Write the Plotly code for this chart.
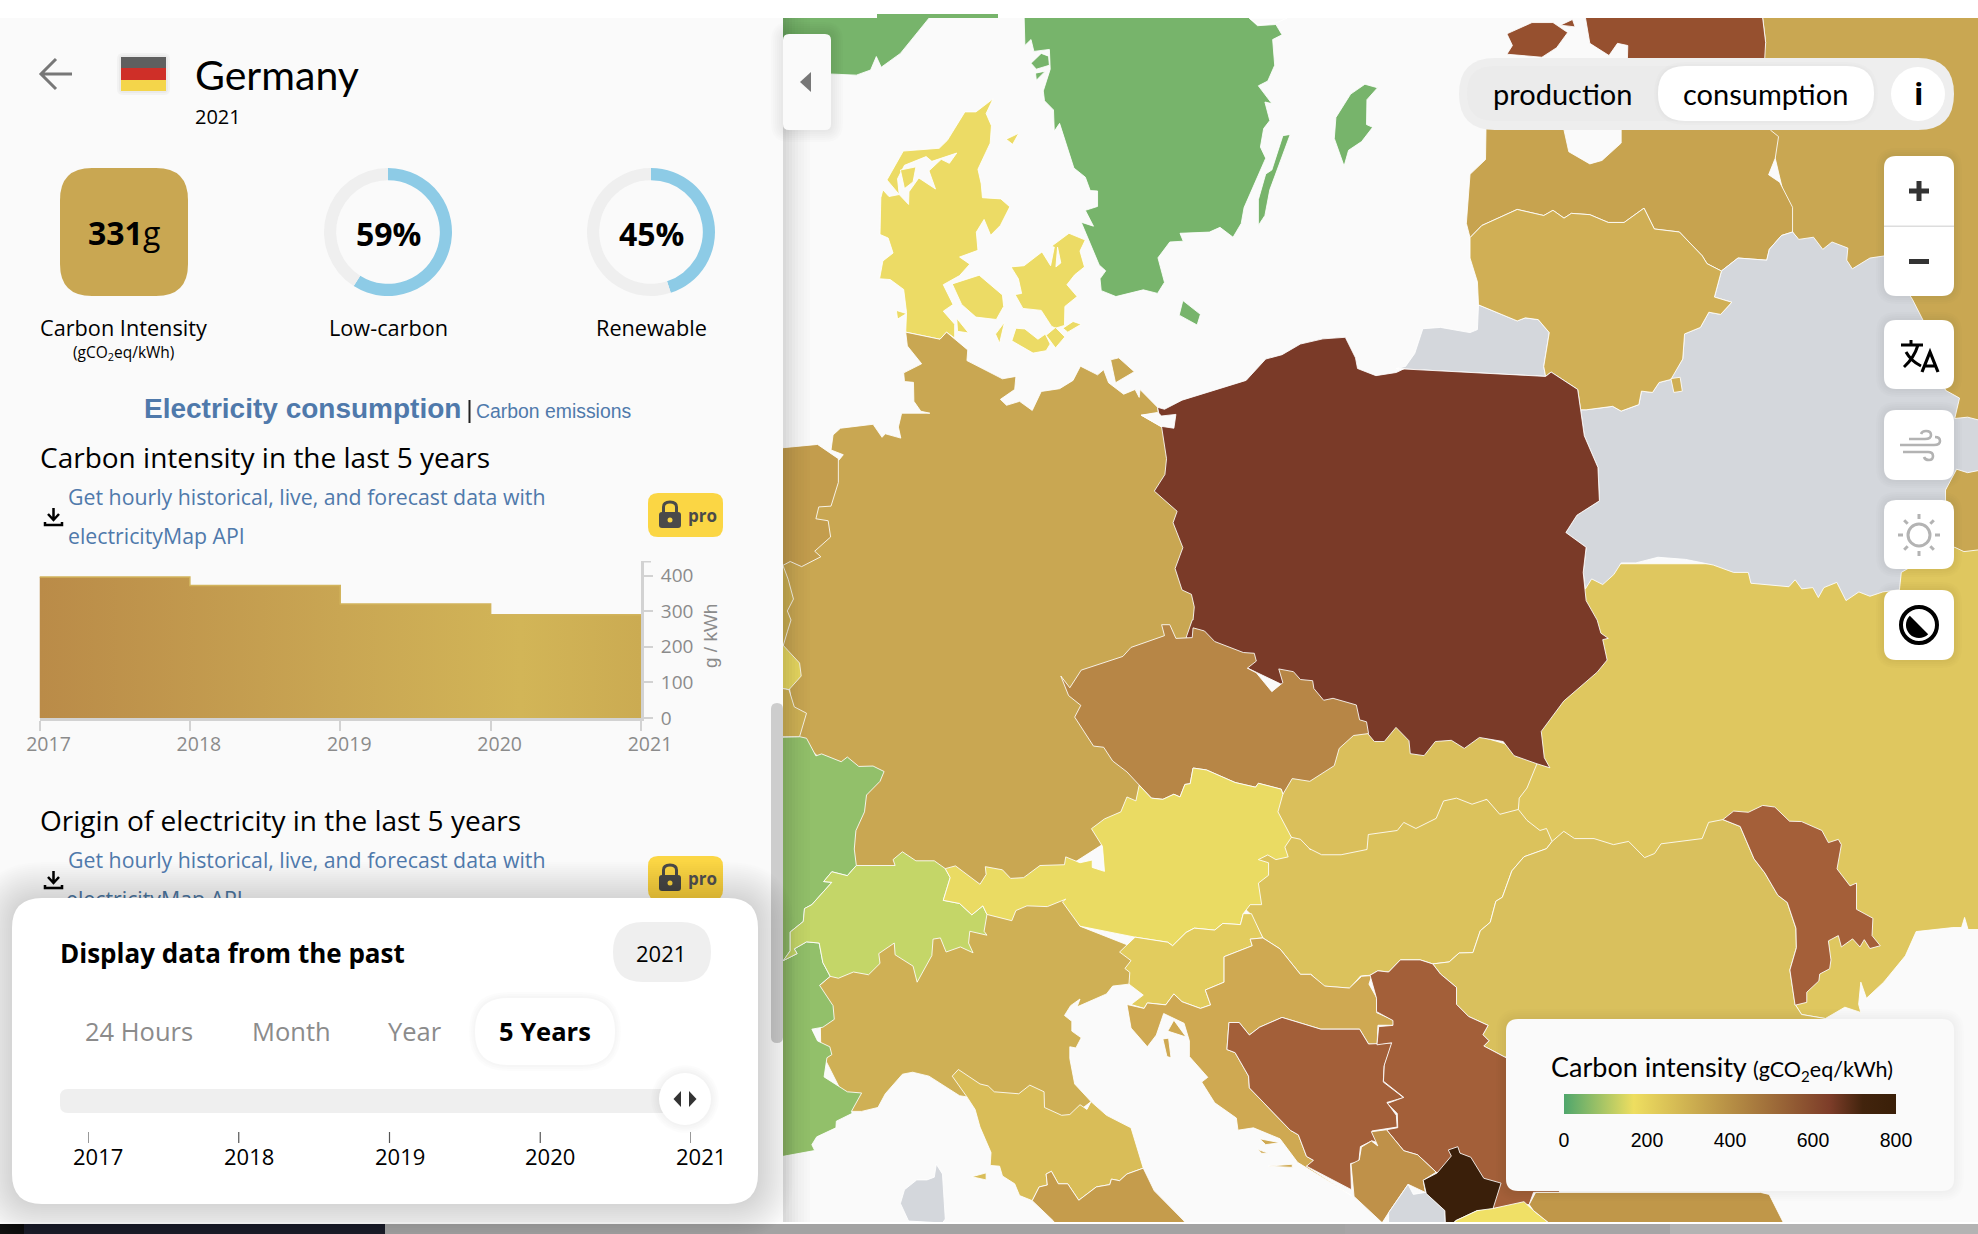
import math
import plotly.graph_objects as go

W, H = 1978, 1234

# --- chart values ---
YEARS = [2017, 2018, 2019, 2020, 2021]
INTENSITY = [396, 372, 320, 290, 290]
INTENSITY_TICKS = [0, 100, 200, 300, 400]
LOW_CARBON = [59, 41]
RENEWABLE = [45, 55]
LEGEND_TICKS = [0, 200, 400, 600, 800]

# colours
CARBON_SCALE = [[0, '#4fa66c'], [0.21, '#eede60'], [0.8, '#7d3d29'], [0.9, '#42240d'], [1, '#3a1f08']]

# --- map outlines, traced in pieces of the screenshot ---
TILES = {'nw': (780, 0, 2.45, 2.529), 'sw': (780, 620, 2.45, 2.554),
         'ne': (1400, 0, 2.713, 2.306), 'se': (1300, 600, 2.3127, 2.473)}

NORWAY = [('nw', [(-20, 0), (400, 0), (365, 46), (295, 135), (248, 170), (236, 143), (222, 177), (187, 190), (120, 187), (-20, 187)])]
SWEDEN = [('nw', [(597, 0), (600, 115), (615, 100), (622, 130), (660, 125), (662, 175), (645, 230), (648, 255), (670, 278), (672, 332), (685, 312), (720, 425), (748, 448), (760, 482), (778, 483), (778, 522), (748, 532), (768, 572), (738, 562), (782, 670), (798, 685), (784, 705), (787, 735), (823, 750), (890, 733), (925, 742), (942, 714), (926, 652), (955, 612), (988, 610), (980, 590), (1052, 587), (1078, 575), (1110, 600), (1130, 565), (1137, 525), (1190, 400), (1177, 372), (1185, 325), (1200, 305), (1188, 258), (1205, 262), (1172, 217), (1195, 205), (1212, 165), (1207, 100), (1230, 88), (1215, 62), (1170, 65), (1150, 46), (1150, 0)])]
SWEDEN_ISLE_A = [('nw', [(615, 160), (640, 135), (658, 142), (660, 165), (628, 175)])]
SWEDEN_ISLE_B = [('nw', [(626, 185), (650, 180), (628, 203)])]
SWEDEN_ISLE_C = [('nw', [(1150, 46), (1242, 46), (1215, 58), (1170, 62)])]
BORNHOLM = [('nw', [(987, 760), (1030, 795), (1022, 822), (978, 797)])]
OLAND = [('nw', [(1250, 340), (1232, 343), (1205, 430), (1190, 440), (1172, 505), (1172, 570), (1188, 545), (1200, 480)])]
GOTLAND = [('nw', [(1433, 213), (1464, 222), (1438, 252), (1437, 315), (1452, 322), (1425, 358), (1393, 380), (1382, 420), (1358, 350), (1362, 297), (1398, 238)])]

JUTLAND = [('nw', [(522, 250), (480, 283), (453, 283), (410, 355), (390, 375), (302, 382), (262, 455), (292, 492), (267, 497), (252, 480), (247, 500), (245, 593), (265, 602), (277, 640), (252, 660), (244, 705), (270, 707), (303, 732), (310, 790), (308, 840), (392, 858), (408, 840), (428, 855), (428, 820), (400, 787), (424, 770), (400, 720), (440, 697), (465, 668), (440, 650), (485, 633), (481, 587), (500, 555), (516, 595), (540, 570), (563, 523), (541, 503), (496, 500), (493, 465), (485, 428), (515, 362), (518, 318), (505, 287)])]
LIMFJORD = [('nw', [(288, 452), (305, 418), (358, 396), (372, 408), (433, 387), (415, 413), (395, 403), (365, 432), (381, 478), (340, 450), (316, 485), (315, 517), (292, 492)])]
MORS = [('nw', [(295, 430), (333, 422), (326, 460), (305, 477)])]
FUNEN = [('nw', [(422, 718), (488, 696), (545, 746), (548, 775), (530, 808), (480, 802), (445, 770)])]
ZEALAND = [('nw', [(566, 675), (598, 672), (642, 637), (663, 672), (672, 625), (665, 623), (708, 590), (748, 607), (735, 635), (746, 675), (722, 695), (703, 720), (728, 750), (698, 775), (697, 823), (675, 830), (665, 825), (640, 785), (595, 780), (576, 745), (592, 742), (584, 705)])]
ISEFJORD = [('nw', [(680, 625), (688, 665), (676, 675)])]
LOLLAND = [('nw', [(568, 862), (578, 830), (600, 832), (632, 858), (650, 845), (662, 870), (652, 887), (620, 893)])]
FALSTER = [('nw', [(652, 848), (675, 828), (698, 852), (675, 880)])]
MON = [('nw', [(693, 830), (718, 813), (738, 820), (705, 840)])]
AERO = [('nw', [(528, 845), (550, 815), (538, 868)])]
ALS = [('nw', [(433, 805), (462, 842), (435, 838)])]
FANO = [('nw', [(285, 785), (310, 793), (288, 807)])]
ANHOLT = [('nw', [(554, 352), (585, 337), (570, 365)])]

RUSSIA = [('ne', [(978, 0), (1600, 0), (1600, 1290), (1400, 1290), (1300, 800), (1065, 535), (1000, 300), (985, 135), (992, 98)])]
ESTONIA = [('ne', [(495, 0), (515, 100), (567, 128), (590, 100), (618, 105), (615, 200), (985, 200), (992, 98), (978, 0)])]
ESTONIA_ISLE_A = [('ne', [(290, 78), (358, 52), (415, 52), (455, 75), (425, 110), (385, 132), (290, 125), (305, 105)])]
ESTONIA_ISLE_B = [('ne', [(435, 58), (468, 45), (475, 62)])]
LATVIA = [('ne', [(235, 200), (232, 368), (190, 402), (180, 515), (190, 548), (222, 520), (318, 483), (390, 497), (415, 485), (445, 503), (465, 492), (515, 495), (565, 513), (608, 513), (662, 480), (690, 528), (758, 535), (820, 590), (833, 608), (872, 625), (917, 595), (995, 600), (1002, 575), (1035, 543), (1065, 535), (1065, 478), (1030, 420), (1000, 403), (1018, 365), (1027, 315), (1005, 300), (995, 200), (600, 200), (600, 330), (548, 370), (515, 378), (458, 350), (445, 300), (445, 200)])]
LITHUANIA = [('ne', [(190, 548), (222, 520), (318, 483), (390, 497), (415, 485), (445, 503), (465, 492), (515, 495), (565, 513), (608, 513), (662, 480), (690, 528), (758, 535), (820, 590), (833, 608), (872, 625), (853, 685), (900, 697), (870, 725), (838, 720), (815, 755), (772, 770), (767, 828), (740, 865), (735, 875), (703, 882), (685, 905), (655, 902), (648, 933), (600, 948), (577, 937), (505, 945), (490, 945), (482, 898), (410, 858), (395, 868), (390, 845), (405, 767), (375, 737), (340, 733), (318, 740), (213, 703), (210, 650), (190, 595)])]
LITHUANIA_ENCLAVE = [('ne', [(735, 873), (760, 870), (766, 902), (743, 905)])]
KALININGRAD = [('ne', [(213, 703), (318, 740), (340, 733), (375, 737), (405, 767), (390, 845), (395, 868), (-10, 850), (15, 845), (40, 815), (62, 758), (110, 755), (190, 767), (210, 760)])]
BELARUS = [('ne', [(490, 945), (505, 945), (577, 937), (600, 948), (648, 933), (655, 902), (685, 905), (703, 882), (735, 875), (740, 865), (767, 828), (772, 770), (815, 755), (838, 720), (870, 725), (900, 697), (853, 685), (872, 625), (917, 595), (995, 600), (1002, 575), (1035, 543), (1065, 535), (1082, 552), (1122, 547), (1147, 575), (1172, 558), (1215, 572), (1212, 600), (1227, 620), (1275, 595), (1315, 590), (1390, 690), (1420, 740), (1480, 900), (1518, 918), (1505, 965), (1540, 962), (1600, 975), (1600, 1080), (1540, 1090), (1510, 1082), (1480, 1130), (1480, 1260), (1360, 1320), (1355, 1360), (1310, 1365), (1275, 1375), (1245, 1365), (1210, 1385), (1185, 1343), (1150, 1355), (1135, 1378), (1120, 1355), (1090, 1358), (1072, 1337), (1055, 1353), (952, 1345), (945, 1320), (905, 1320), (850, 1303), (775, 1290), (700, 1285), (640, 1298), (600, 1298), (580, 1325), (550, 1348), (520, 1335), (503, 1358), (497, 1320), (505, 1262), (450, 1228), (480, 1188), (541, 1155), (537, 1078), (500, 1005)])]
UKRAINE = [('ne', [(480, 1300), (1360, 1300), (1505, 1262), (1530, 1272), (1600, 1265)]),
           ('se', [(1600, 815), (1545, 815), (1537, 785), (1530, 810), (1510, 810), (1425, 820), (1400, 880), (1350, 945), (1310, 985), (1297, 945), (1292, 1000), (1297, 1020), (1260, 1007), (1215, 1035), (1160, 1025), (1145, 1000), (500, 900), (480, 500), (480, 380)])]
MOLDOVA = [('se', [(978, 543), (1003, 522), (1037, 525), (1070, 508), (1098, 512), (1132, 547), (1160, 548), (1207, 570), (1222, 600), (1245, 592), (1252, 605), (1242, 665), (1272, 707), (1287, 700), (1287, 765), (1325, 787), (1323, 830), (1342, 855), (1318, 862), (1305, 840), (1295, 858), (1278, 838), (1252, 858), (1245, 830), (1222, 843), (1228, 890), (1225, 912), (1202, 925), (1200, 942), (1172, 970), (1172, 995), (1145, 1002), (1133, 915), (1148, 860), (1147, 812), (1127, 748), (1105, 730), (1075, 675), (1050, 640), (1018, 560)])]

ITALY_NORTH = [('sw', [(97, 933), (123, 910), (300, 800), (500, 750), (700, 700), (735, 782), (900, 850), (870, 925), (855, 930), (815, 935), (800, 955), (728, 988), (735, 968), (712, 985), (697, 1010), (715, 1025), (715, 1050), (738, 1067), (725, 1093), (710, 1090), (710, 1120), (722, 1185), (762, 1230), (700, 1280), (480, 1250), (458, 1218), (440, 1215), (365, 1165), (325, 1155), (300, 1160), (258, 1210), (240, 1245), (200, 1255), (175, 1255), (100, 1100)])]
ITALY_CENTRE = [('sw', [(422, 1165), (437, 1148), (490, 1185), (510, 1190), (525, 1205), (585, 1210), (612, 1188), (647, 1205), (648, 1245), (690, 1265), (710, 1263), (735, 1238), (752, 1250), (762, 1230), (800, 1265), (860, 1297), (890, 1400), (850, 1415), (832, 1432), (812, 1428), (808, 1442), (775, 1448), (732, 1482), (705, 1440), (682, 1440), (665, 1408), (652, 1415), (655, 1443), (635, 1448), (618, 1483), (587, 1470), (575, 1440), (545, 1420), (538, 1395), (515, 1393), (517, 1360), (490, 1295), (478, 1250), (458, 1218)])]
ITALY_SOUTH = [('sw', [(618, 1483), (635, 1448), (655, 1443), (652, 1415), (665, 1408), (682, 1440), (705, 1440), (732, 1482), (775, 1448), (808, 1442), (812, 1428), (832, 1432), (850, 1415), (890, 1400), (917, 1458), (990, 1535), (1010, 1580), (690, 1580), (670, 1535)])]
ELBA = [('sw', [(470, 1422), (505, 1412), (505, 1430)])]
CORSICA = [('sw', [(383, 1390), (398, 1415), (405, 1530), (398, 1540), (315, 1535), (295, 1490), (305, 1455), (335, 1430), (360, 1430), (378, 1423)])]

FRANCE = [('sw', [(-20, 300), (48, 298), (65, 302), (88, 347), (102, 342), (150, 362), (165, 350), (193, 374), (228, 373), (255, 387), (245, 412), (212, 447), (207, 490), (186, 538), (182, 585), (187, 627), (165, 653), (127, 643), (107, 668), (127, 670), (78, 727), (60, 737), (57, 770), (25, 797), (25, 845), (8, 870), (42, 852), (35, 840), (65, 822), (96, 825), (105, 875), (123, 910), (97, 933), (130, 985), (133, 1020), (105, 1040), (78, 1045), (92, 1075), (122, 1090), (127, 1110), (115, 1118), (108, 1167), (165, 1205), (200, 1208), (175, 1255), (177, 1260), (138, 1280), (137, 1297), (90, 1320), (78, 1340), (85, 1355), (-20, 1375)])]
GERMANY = [('nw', [(308, 840), (392, 858), (408, 840), (460, 885), (458, 912), (545, 958), (578, 952), (575, 985), (540, 1010), (555, 1025), (587, 1015), (618, 1038), (640, 990), (685, 983), (718, 962), (736, 926), (778, 948), (793, 935), (805, 968), (842, 997), (870, 985), (880, 1005), (882, 985), (925, 1030), (927, 1045), (885, 1050), (935, 1080), (1050, 1100), (1100, 1568)]),
           ('sw', [(1050, 200), (900, 500), (600, 700), (300, 700), (150, 620), (150, 400), (40, 300), (0, 1)]),
           ('nw', [(0, 1500), (0, 1300), (100, 1170), (145, 1163), (155, 1150), (125, 1138), (130, 1100), (148, 1083), (228, 1073), (250, 1106), (258, 1097), (296, 1108), (290, 1080), (298, 1045), (367, 1045), (345, 1040), (328, 1015), (327, 967), (305, 965), (303, 943), (347, 920), (312, 875)])]
RUGEN = [('nw', [(810, 910), (830, 905), (868, 940), (822, 968)])]
NETHERLANDS = [('nw', [(-20, 1135), (92, 1124), (143, 1160), (143, 1220), (125, 1280), (95, 1282), (88, 1312), (118, 1317), (124, 1358), (85, 1394), (100, 1408), (53, 1433), (25, 1420), (-20, 1445)])]
BELGIUM = [('nw', [(-20, 1445), (8, 1432), (20, 1465), (33, 1515), (18, 1545), (27, 1568)]), ('sw', [(18, 30), (8, 65), (-20, 65)])]
LUXEMBOURG = [('sw', [(-20, 65), (8, 65), (48, 110), (52, 143), (22, 178), (-20, 170)])]
LORRAINE = [('sw', [(-20, 170), (22, 178), (35, 222), (65, 238), (48, 298), (-20, 298)])]

HUNGARY = [('se', [(505, 518), (525, 545), (555, 570), (570, 565), (583, 597), (570, 615), (518, 635), (490, 670), (468, 735), (453, 745), (440, 797), (417, 818), (400, 872), (368, 873), (345, 895), (307, 900), (278, 890), (232, 890), (205, 920), (180, 917), (162, 928), (140, 930), (115, 960), (55, 955), (25, 925)]),
           ('sw', [(1300, 905), (1275, 905), (1225, 840), (1183, 812), (1152, 750), (1100, 700), (1200, 500), (1300, 500)]),
           ('se', [(300, 480), (490, 500)])]
ROMANIA = [('se', [(583, 597), (610, 572), (635, 590), (680, 590), (725, 605), (760, 597), (797, 637), (820, 627), (835, 603), (930, 590), (945, 550), (978, 543), (1018, 560), (1050, 640), (1075, 675), (1105, 730), (1127, 748), (1147, 812), (1148, 860), (1133, 915), (1145, 1000), (1160, 1025), (1215, 1035), (1215, 1100), (476, 1130), (473, 1130), (425, 1103), (437, 1090), (423, 1075), (435, 1052), (390, 1030), (362, 1000), (362, 958), (325, 925), (307, 900), (345, 895), (368, 873), (400, 872), (417, 818), (440, 797), (453, 745), (468, 735), (490, 670), (518, 635), (570, 615)])]
SLOVAKIA = [('sw', [(1210, 500), (1228, 445), (1300, 300), (1500, 200)]),
            ('se', [(300, 300), (550, 380), (548, 405), (525, 465), (507, 490), (505, 518), (462, 530), (432, 493), (398, 505), (362, 490), (332, 497), (315, 540), (268, 565), (240, 550), (225, 570), (158, 580), (155, 617), (95, 630), (50, 630), (22, 615)]),
            ('sw', [(1300, 587), (1275, 560), (1253, 555)])]
POLAND = [('nw', [(925, 1030), (942, 1035), (985, 1012), (1142, 962), (1190, 908), (1230, 897), (1275, 870), (1330, 857), (1385, 853), (1410, 905), (1415, 932), (1460, 950), (1510, 942), (1530, 932)]),
          ('ne', [(-10, 850), (395, 868), (410, 858), (482, 898), (490, 945), (500, 1005), (537, 1078), (541, 1155), (480, 1188), (450, 1228), (505, 1262), (497, 1320), (505, 1385), (535, 1430), (545, 1460), (565, 1472), (550, 1475), (562, 1522), (535, 1550)]),
          ('se', [(610, 250), (558, 325), (565, 390), (578, 415), (548, 405), (495, 385), (470, 350), (415, 340), (380, 367), (350, 347), (313, 350), (287, 385), (255, 380), (252, 348), (222, 315), (195, 350), (172, 350), (155, 328)]),
          ('sw', [(1300, 200), (1100, 100), (995, 45), (1010, 0)]),
          ('nw', [(1012, 1568), (1015, 1535), (1008, 1503), (985, 1492), (968, 1438), (987, 1385), (963, 1322), (973, 1293), (917, 1242), (943, 1200), (947, 1160), (935, 1080)])]
STETTIN_LAGOON = [('nw', [(885, 1050), (925, 1043), (935, 1052), (970, 1048), (965, 1083), (933, 1078)])]
CZECHIA = [('sw', [(688, 143), (710, 173), (738, 128), (840, 93), (860, 70), (942, 40), (935, 12), (955, 12), (970, 47), (995, 45), (1010, 45), (1012, 20), (1040, 28), (1065, 55), (1135, 83), (1162, 85), (1167, 105), (1145, 123), (1167, 135), (1205, 183), (1232, 160), (1222, 125), (1258, 132), (1275, 152), (1305, 155), (1308, 175), (1332, 205), (1355, 200), (1412, 217), (1420, 255), (1437, 260), (1442, 290), (1405, 295), (1370, 328), (1358, 372), (1298, 412), (1255, 405), (1232, 445), (1228, 432), (1172, 417), (1165, 427), (1115, 415), (1045, 383), (1012, 378), (1005, 418), (992, 420), (980, 452), (965, 445), (938, 458), (910, 455), (880, 422), (850, 388), (815, 360), (793, 325), (768, 322), (722, 248), (737, 218), (707, 193)])]
SWITZERLAND = [('sw', [(187, 627), (282, 627), (277, 612), (300, 592), (333, 615), (378, 615), (405, 635), (417, 658), (400, 716), (440, 724), (470, 753), (497, 730), (507, 752), (500, 795), (507, 805), (465, 795), (462, 825), (473, 850), (442, 835), (407, 848), (393, 812), (375, 815), (372, 857), (336, 925), (326, 884), (282, 855), (280, 825), (242, 852), (245, 877), (217, 906), (180, 899), (143, 915), (123, 910), (105, 875), (96, 825), (65, 822), (35, 840), (42, 852), (8, 870), (25, 845), (25, 797), (57, 770), (60, 737), (78, 727), (127, 670), (107, 668), (127, 643), (165, 653)])]
AUSTRIA = [('sw', [(880, 422), (910, 455), (938, 458), (965, 445), (980, 452), (992, 420), (1005, 418), (1012, 378), (1045, 383), (1115, 415), (1165, 427), (1172, 417), (1228, 432), (1232, 445), (1220, 490), (1253, 555), (1237, 580), (1245, 605), (1215, 612), (1195, 600), (1172, 612), (1197, 620), (1197, 652), (1172, 672), (1180, 727), (1152, 727), (1135, 750), (1128, 778), (1085, 775), (1065, 792), (1015, 787), (995, 798), (962, 832), (950, 823), (870, 810), (735, 782), (692, 720), (700, 713), (655, 732), (605, 730), (578, 742), (568, 768), (507, 752), (497, 730), (470, 753), (440, 724), (400, 716), (417, 658), (405, 635), (430, 628), (490, 675), (505, 650), (503, 630), (545, 638), (565, 660), (597, 658), (637, 627), (697, 625), (700, 605), (735, 620), (765, 613), (765, 632), (795, 642), (790, 578), (763, 533), (795, 508), (835, 490), (850, 452), (872, 462)])]
SLOVENIA = [('sw', [(870, 810), (950, 823), (962, 832), (995, 798), (1015, 787), (1065, 792), (1085, 775), (1128, 778), (1135, 750), (1155, 750), (1183, 812), (1152, 815), (1157, 832), (1088, 860), (1088, 925), (1042, 945), (1055, 983), (1030, 992), (985, 975), (965, 955), (945, 983), (900, 978), (892, 992), (860, 982), (890, 958), (855, 930), (857, 900), (845, 890), (860, 870), (832, 848)])]
CROATIA = [('sw', [(850, 982), (892, 992), (900, 978), (945, 983), (965, 955), (985, 975), (1030, 992), (1055, 983), (1042, 945), (1088, 925), (1088, 860), (1157, 832), (1152, 815), (1183, 812), (1225, 840), (1275, 905), (1300, 905), (1335, 935), (1395, 940), (1425, 910), (1450, 908), (1443, 930), (1462, 965), (1462, 1003), (1503, 1022), (1503, 1035), (1465, 1035), (1463, 1083), (1442, 1083), (1420, 1045), (1325, 1045), (1230, 1015), (1175, 1040), (1150, 1060), (1125, 1028), (1100, 1028), (1095, 1097), (1115, 1105), (1148, 1165), (1150, 1195), (1250, 1303), (1270, 1315), (1290, 1370), (1307, 1380), (1305, 1390), (1290, 1395), (1400, 1470), (1268, 1385), (1225, 1325), (1160, 1297), (1122, 1303), (1118, 1272), (1065, 1233), (1033, 1180), (1048, 1168), (1003, 1115), (1003, 1075), (990, 1030), (940, 1005), (922, 1060), (900, 1090), (860, 1042)])]
CROATIA_ISLE_A = [('sw', [(950, 1050), (965, 1022), (995, 1065)])]
CROATIA_ISLE_B = [('sw', [(938, 1070), (952, 1068), (958, 1118), (948, 1115)])]
CROATIA_ISLE_C = [('sw', [(1175, 1325), (1225, 1335), (1190, 1340)])]
CROATIA_ISLE_D = [('sw', [(1170, 1352), (1197, 1362), (1180, 1362)])]
CROATIA_ISLE_E = [('sw', [(1195, 1395), (1255, 1390), (1255, 1398)])]
BOSNIA = [('sw', [(1100, 1028), (1125, 1028), (1150, 1060), (1175, 1040), (1230, 1015), (1325, 1045), (1420, 1045), (1442, 1083), (1500, 1080), (1480, 1140), (1478, 1180), (1528, 1220), (1487, 1232), (1510, 1265), (1512, 1295), (1450, 1305), (1465, 1335), (1450, 1330), (1422, 1345), (1418, 1385), (1398, 1388), (1400, 1455), (1290, 1395), (1307, 1380), (1290, 1370), (1270, 1315), (1250, 1303), (1150, 1195), (1148, 1165), (1115, 1105), (1095, 1097)])]
SERBIA = [('se', [(162, 928), (180, 917), (205, 920), (232, 890), (278, 890), (307, 900), (325, 925), (362, 958), (362, 1000), (390, 1030), (435, 1052), (423, 1075), (437, 1090), (425, 1103), (473, 1130), (600, 1200), (600, 1465), (540, 1465), (530, 1495), (450, 1505), (350, 1450), (315, 1415), (272, 1372), (240, 1362), (200, 1310), (226, 1305), (225, 1270), (202, 1245), (240, 1230), (193, 1190), (195, 1150), (212, 1095), (178, 1100), (182, 1055), (215, 1052), (215, 1040), (177, 1018), (177, 985)])]
MONTENEGRO = [('se', [(165, 1315), (200, 1310), (240, 1362), (272, 1372), (315, 1415), (285, 1435), (290, 1465), (250, 1445), (205, 1515), (190, 1540), (125, 1475), (118, 1395), (137, 1385), (142, 1353), (165, 1338), (180, 1350)])]
KOSOVO = [('se', [(343, 1360), (365, 1352), (370, 1368), (395, 1378), (425, 1430), (465, 1442), (445, 1510), (410, 1510), (360, 1535), (337, 1560), (335, 1510), (292, 1468), (285, 1435), (317, 1417), (350, 1375)])]
ALBANIA = [('se', [(250, 1445), (262, 1470), (290, 1465), (335, 1510), (337, 1560), (205, 1560), (205, 1515)])]
MACEDONIA = [('se', [(360, 1535), (410, 1510), (445, 1505), (518, 1488), (540, 1510), (575, 1540), (575, 1560), (345, 1560)])]
BULGARIA = [('se', [(530, 1495), (545, 1465), (1065, 1465), (1085, 1470), (1118, 1540), (1118, 1560), (575, 1560), (575, 1540), (540, 1510)])]

# paint order matters: later countries own the shared border
MAP_LAYERS = [
    (NORWAY, '#77b46b'), (SWEDEN, '#77b46b'), (SWEDEN_ISLE_A, '#77b46b'), (SWEDEN_ISLE_B, '#77b46b'),
    (SWEDEN_ISLE_C, '#fafafa'), (BORNHOLM, '#77b46b'), (OLAND, '#77b46b'), (GOTLAND, '#77b46b'),
    (JUTLAND, '#ecdb65'), (LIMFJORD, '#fafafa'), (MORS, '#ecdb65'), (FUNEN, '#ecdb65'), (ZEALAND, '#ecdb65'),
    (ISEFJORD, '#fafafa'), (LOLLAND, '#ecdb65'), (FALSTER, '#ecdb65'), (MON, '#ecdb65'), (AERO, '#ecdb65'),
    (ALS, '#ecdb65'), (FANO, '#ecdb65'), (ANHOLT, '#ecdb65'),
    (RUSSIA, '#c9a752'), (UKRAINE, '#dfc75f'), (ESTONIA, '#96502f'), (ESTONIA_ISLE_A, '#96502f'), (ESTONIA_ISLE_B, '#96502f'),
    (LATVIA, '#c7a34f'), (KALININGRAD, '#d4d7dc'), (BELARUS, '#d4d7dc'), (LITHUANIA, '#d0af55'),
    (LITHUANIA_ENCLAVE, '#d0af55'),
    (ITALY_NORTH, '#cfb055'), (ITALY_CENTRE, '#d9bd58'), (ITALY_SOUTH, '#c59c4c'), (ELBA, '#d9bd58'), (CORSICA, '#d4d7dc'),
    (GERMANY, '#c9a752'), (RUGEN, '#c9a752'), (FRANCE, '#92c06a'), (NETHERLANDS, '#c39d4d'), (BELGIUM, '#cdb052'),
    (LUXEMBOURG, '#e8d860'), (LORRAINE, '#d0b255'),
    (HUNGARY, '#dbc25c'), (ROMANIA, '#d9c05d'), (SLOVAKIA, '#dabf5b'), (POLAND, '#7a3a28'), (STETTIN_LAGOON, '#fafafa'),
    (CZECHIA, '#b78646'), (SWITZERLAND, '#c4d668'), (AUSTRIA, '#eadb63'), (SLOVENIA, '#e2cc5e'),
    (CROATIA, '#cfa952'), (CROATIA_ISLE_A, '#cfa952'), (CROATIA_ISLE_B, '#cfa952'), (CROATIA_ISLE_C, '#cfa952'),
    (CROATIA_ISLE_D, '#cfa952'), (CROATIA_ISLE_E, '#cfa952'),
    (BOSNIA, '#a35f39'), (SERBIA, '#a35f39'), (MONTENEGRO, '#bf9149'), (ALBANIA, '#d4d7dc'), (KOSOVO, '#3a1f0a'),
    (MACEDONIA, '#f0e066'), (BULGARIA, '#c09749'), (MOLDOVA, '#a45f39'),
]

BODY = 'Open Sans'
BRAND = 'Lato'
LINK = '#4f79ab'
GREY = '#8b8b8b'


def unroll(runs):
    xs, ys = [], []
    for tile, pts in runs:
        ox, oy, sx, sy = TILES[tile]
        for x, y in pts:
            xs.append(ox + x / sx)
            ys.append(oy + y / sy)
    xs.append(xs[0])
    ys.append(ys[0])
    return xs, ys


fig = go.Figure()

for runs, colour in MAP_LAYERS:
    xs, ys = unroll(runs)
    fig.add_trace(go.Scatter(x=xs, y=ys, mode='lines', fill='toself', fillcolor=colour,
                             line=dict(color='rgba(255,255,255,0.85)', width=1),
                             hoverinfo='skip', showlegend=False, xaxis='x', yaxis='y'))

# carbon intensity step chart
fig.add_trace(go.Scatter(x=YEARS, y=INTENSITY, mode='lines', line=dict(shape='hv', color='#d2b45c', width=1.5),
                         fill='tozeroy', fillgradient=dict(type='horizontal', colorscale=[
                             [0, '#ba8b48'], [0.5, '#c9a653'], [0.8, '#d2b557'], [1, '#cbab52']]),
                         hoverinfo='skip', showlegend=False, xaxis='x2', yaxis='y2'))

# slider scale, only the shapes below use it
fig.add_trace(go.Scatter(x=YEARS, y=[0] * len(YEARS), mode='markers', marker=dict(opacity=0),
                         hoverinfo='skip', showlegend=False, xaxis='x3', yaxis='y3'))

# second link line is cut off by the card, so it has to sit under the shapes
fig.add_trace(go.Scatter(x=[66], y=[902], mode='text', text=['electricityMap API'], textposition='middle right',
                         textfont=dict(family=BODY, size=21.3, color=LINK),
                         hoverinfo='skip', showlegend=False, xaxis='x4', yaxis='y4'))

# only here for the horizontal colour bar
fig.add_trace(go.Scatter(x=[-50], y=[-50], mode='markers', hoverinfo='skip', showlegend=False, xaxis='x4', yaxis='y4',
                         marker=dict(color=[0], cmin=LEGEND_TICKS[0], cmax=LEGEND_TICKS[-1], colorscale=CARBON_SCALE,
                                     showscale=True, colorbar=dict(
                                         orientation='h', lenmode='pixels', len=332, thickness=20, thicknessmode='pixels',
                                         x=1730 / W, xanchor='center', y=1 - 1094 / H, yanchor='top', xpad=0, ypad=0,
                                         outlinewidth=0, tickvals=LEGEND_TICKS, ticks='outside', ticklen=10,
                                         tickcolor='rgba(0,0,0,0)',
                                         tickfont=dict(family='Liberation Sans', size=19.5, color='#000')))))

for share, cx in ((LOW_CARBON, 388), (RENEWABLE, 651)):
    fig.add_trace(go.Pie(values=share, sort=False, direction='clockwise', rotation=0, hole=0.81,
                         marker=dict(colors=['#8dcbe6', '#efefef'], line=dict(width=0)),
                         textinfo='none', hoverinfo='skip', showlegend=False,
                         domain=dict(x=[(cx - 64) / W, (cx + 64) / W], y=[1 - 296 / H, 1 - 168 / H])))

shapes = []
notes = []


def rr(x0, y0, x1, y1, r):
    return (f'M{x0 + r},{y0} L{x1 - r},{y0} Q{x1},{y0} {x1},{y0 + r} L{x1},{y1 - r} Q{x1},{y1} {x1 - r},{y1} '
            f'L{x0 + r},{y1} Q{x0},{y1} {x0},{y1 - r} L{x0},{y0 + r} Q{x0},{y0} {x0 + r},{y0} Z')


def fill(path, colour):
    shapes.append(dict(type='path', path=path, xref='x4', yref='y4', fillcolor=colour, line=dict(width=0), layer='above'))


def stroke(path, colour, width):
    shapes.append(dict(type='path', path=path, xref='x4', yref='y4', fillcolor='rgba(0,0,0,0)',
                       line=dict(color=colour, width=width), layer='above'))


def rect(x0, y0, x1, y1, colour):
    shapes.append(dict(type='rect', x0=x0, y0=y0, x1=x1, y1=y1, xref='x4', yref='y4', fillcolor=colour,
                       line=dict(width=0), layer='above'))


def disc(cx, cy, r, colour, edge=None, width=0):
    shapes.append(dict(type='circle', x0=cx - r, y0=cy - r, x1=cx + r, y1=cy + r, xref='x4', yref='y4',
                       fillcolor=colour, line=dict(color=edge or colour, width=width), layer='above'))


def soft(x0, y0, x1, y1, r, spread=16, alpha=0.012, dy=0):
    for i in range(spread, 0, -2):
        fill(rr(x0 - i, y0 - i + dy, x1 + i, y1 + i + dy, r + i), f'rgba(0,0,0,{alpha})')


def note(x, y, text, size, colour='#000', family=BODY, anchor='left', angle=0):
    # left aligned labels carry a little padding from the annotation box
    if anchor == 'left':
        x -= 2
    notes.append(dict(x=x, y=y, xref='x4', yref='y4', text=text, showarrow=False, xanchor=anchor, yanchor='middle',
                      textangle=angle, font=dict(family=family, size=size, color=colour)))


# page frame
rect(0, 0, W, 18, '#ffffff')
rect(877, 14, 998, 18, '#77b46b')
for i, alpha in enumerate([0.13, 0.11, 0.09, 0.07, 0.055, 0.04, 0.03, 0.02, 0.012]):
    rect(783 + i * 3, 18, 786 + i * 3, 1222, f'rgba(0,0,0,{alpha})')
rect(0, 1222, W, 1224, '#ffffff')
rect(0, 1224, 24, H, '#101010')
rect(24, 1224, 385, H, '#1d1f2b')
rect(385, 1224, 1345, H, '#a3a3a3')
rect(1345, 1224, 1670, H, '#a6a5a6')
rect(1670, 1224, W, H, '#b3b3b3')

# collapse tab
soft(783, 34, 831, 130, 6, spread=12, alpha=0.012)
fill(rr(783, 34, 831, 130, 6), '#fafafa')
fill('M811,72 L800,82 L811,92 Z', '#777777')

# header
stroke('M72,74 L42,74 M56,59 L41,74 L56,89', '#777777', 3)
soft(121, 57, 166, 91, 2, spread=4, alpha=0.03)
rect(121, 57, 166, 68, '#5f5f5f')
rect(121, 68, 166, 80, '#cf2f28')
rect(121, 80, 166, 91, '#f4d54a')
note(195, 74, 'Germany', 41, family=BRAND)
note(195, 116.5, '2021', 20)

# headline numbers
fill(rr(60, 168, 188, 296, 32), '#c9a752')
note(123.5, 232, '<b>331</b>g', 32, anchor='center')
note(388, 233, '<b>59%</b>', 32, anchor='center')
note(651, 233, '<b>45%</b>', 32, anchor='center')
note(123, 327, 'Carbon Intensity', 21.7, anchor='center')
note(123, 352, '(gCO<sub>2</sub>eq/kWh)', 15.5, anchor='center')
note(388, 327, 'Low-carbon', 21.7, anchor='center')
note(651, 327, 'Renewable', 21.7, anchor='center')

note(144, 408, '<b>Electricity consumption</b>', 28, LINK, 'Liberation Sans')
rect(468.5, 400, 470.5, 423, '#222222')
note(476, 411, 'Carbon emissions', 19.4, LINK, 'Liberation Sans')


def api_row(dy):
    stroke(f'M53.5,{508 + dy} L53.5,{520 + dy} M48,{514 + dy} L53.5,{520 + dy} L59,{514 + dy} '
           f'M45,{522 + dy} L45,{525 + dy} L62,{525 + dy} L62,{522 + dy}', '#000000', 2.5)
    fill(rr(648, 493 + dy, 723, 537 + dy, 10), '#fbd644')
    fill(rr(659, 512 + dy, 681, 528 + dy, 3), '#4a4a4a')
    stroke(f'M663.5,{513 + dy} L663.5,{507 + dy} Q663.5,{502 + dy} 670,{502 + dy} '
           f'Q676.5,{502 + dy} 676.5,{507 + dy} L676.5,{513 + dy}', '#4a4a4a', 3)
    disc(670, 520 + dy, 2.5, '#fbd644')
    note(688, 515 + dy, '<b>pro</b>', 17, '#4a4a4a')
    note(68, 496 + dy, 'Get hourly historical, live, and forecast data with', 21.3, LINK)


note(40, 457, 'Carbon intensity in the last 5 years', 28)
api_row(0)
note(68, 535.5, 'electricityMap API', 21.3, LINK)
note(710, 636, 'g / kWh', 19, GREY, 'Liberation Sans', 'center', -90)
note(40, 820, 'Origin of electricity in the last 5 years', 28)
api_row(363)

# scrollbar
fill(rr(771, 703, 783, 1043, 6), '#cdcdcd')

# time controller card
soft(12, 898, 758, 1204, 30, spread=36, alpha=0.009)
fill(rr(12, 898, 758, 1204, 30), '#ffffff')
note(60, 953, '<b>Display data from the past</b>', 26)
fill(rr(613, 922, 711, 982, 30), '#efefef')
note(661, 953, '2021', 22, anchor='center')
note(85, 1031, '24 Hours', 25.5, GREY)
note(252, 1031, 'Month', 25.5, GREY)
note(388, 1031, 'Year', 25.5, GREY)
soft(475, 998, 615, 1065, 33, spread=6, alpha=0.012)
fill(rr(475, 998, 615, 1065, 33), '#ffffff')
note(499, 1031, '<b>5 Years</b>', 25.5)
fill(rr(60, 1089, 670, 1113, 8), '#efefef')
for i in range(8, 0, -2):
    disc(685, 1099, 26 + i, 'rgba(0,0,0,0.012)')
disc(685, 1099, 26, '#ffffff')
fill('M681,1091 L673.5,1099 L681,1107 Z', '#333333')
fill('M689,1091 L696.5,1099 L689,1107 Z', '#333333')
for year in YEARS:
    shapes.append(dict(type='line', x0=year, x1=year, y0=1132, y1=1143, xref='x3', yref='y4',
                       line=dict(color='#555555', width=1.2), layer='above'))
    notes.append(dict(x=year, y=1156, xref='x3', yref='y4', text=str(year), showarrow=False, xshift=10,
                      yanchor='middle', font=dict(family=BODY, size=22, color='#000')))

# production / consumption switch
fill(rr(1459, 58, 1954, 130, 36), '#eeeeee')
fill(rr(1467, 66, 1874, 121, 27), '#ebebeb')
soft(1658, 66, 1874, 121, 27, spread=4, alpha=0.012)
fill(rr(1658, 66, 1874, 121, 27), '#ffffff')
disc(1918, 94, 27, '#ffffff')
note(1562, 93, 'production', 29, family=BRAND, anchor='center')
note(1765, 93, 'consumption', 29, family=BRAND, anchor='center')
note(1918, 93, '<b>i</b>', 31, family=BODY, anchor='center')

# map buttons
for top, bottom in ((156, 296), (320, 389), (410, 480), (500, 569), (590, 660)):
    soft(1884, top, 1954, bottom, 12, spread=8, alpha=0.012)
    fill(rr(1884, top, 1954, bottom, 12), '#ffffff')
rect(1884, 225.5, 1954, 227, '#dddddd')
stroke('M1909,191 L1929,191 M1919,181 L1919,201', '#333333', 5)
stroke('M1909,261.5 L1929,261.5', '#333333', 5)

stroke('M1901,345 L1923,345 M1911,340 L1911,345 M1918,345 Q1914,358 1904,367 M1906,352 Q1911,361 1921,366', '#000000', 3)
stroke('M1922,372 L1930,352 L1938,372 M1925,366 L1935,366', '#000000', 3.2)

stroke('M1909,439 L1925,439 Q1931,439 1931,435 Q1931,431 1926,431 Q1922,431 1921,434 '
       'M1900,445 L1934,445 Q1940,445 1940,441 Q1940,437 1935,437 '
       'M1903,452 L1928,452 Q1933,452 1933,456 Q1933,460 1929,460 Q1925,460 1924,457', '#b3b3b3', 2.6)

disc(1919, 535, 11, 'rgba(0,0,0,0)', '#b3b3b3', 3)
for k in range(8):
    a = k * math.pi / 4
    stroke(f'M{1919 + 16 * math.cos(a):.1f},{535 + 16 * math.sin(a):.1f} '
           f'L{1919 + 21 * math.cos(a):.1f},{535 + 21 * math.sin(a):.1f}', '#b3b3b3', 3)

disc(1919, 625, 18, 'rgba(0,0,0,0)', '#000000', 4)
fill('M1909.8,615.8 L1928.2,634.2 C1923.1,639.3 1914.9,639.3 1909.8,634.2 C1904.7,629.1 1904.7,620.9 1909.8,615.8 Z', '#000000')

# legend card
soft(1506, 1019, 1954, 1191, 12, spread=10, alpha=0.008)
fill(rr(1506, 1019, 1954, 1191, 12), '#fafafa')
note(1551, 1067, 'Carbon intensity <span style="font-size:21.5px">(gCO<sub>2</sub>eq/kWh)</span>', 27, family=BRAND)

# top end cap of the y axis
rect(641, 561, 651, 562.5, '#d2d2d2')

fig.update_layout(
    width=W, height=H, margin=dict(l=0, r=0, t=0, b=0, autoexpand=False), autosize=False,
    paper_bgcolor='#fafafa', plot_bgcolor='rgba(0,0,0,0)', showlegend=False, hovermode=False,
    shapes=shapes, annotations=notes,
    # map
    xaxis=dict(domain=[783 / W, 1], range=[783, W], visible=False, fixedrange=True),
    yaxis=dict(domain=[1 - 1222 / H, 1 - 18 / H], range=[1222, 18], visible=False, fixedrange=True),
    # step chart
    xaxis2=dict(domain=[39.5 / W, 641 / W], range=[YEARS[0], YEARS[-1]], anchor='y2', tickvals=YEARS, showgrid=False,
                zeroline=False, showline=True, linecolor='#d2d2d2', linewidth=3, ticks='outside', ticklen=10,
                tickwidth=1.5, tickcolor='#d2d2d2', ticklabelshift=9, ticklabelstandoff=-3,
                tickfont=dict(family=BODY, size=19.5, color=GREY), fixedrange=True),
    yaxis2=dict(domain=[1 - 718 / H, 1 - 561.7 / H], range=[0, 439], anchor='x2', side='right',
                tickvals=INTENSITY_TICKS, showgrid=False, zeroline=False, showline=True, linecolor='#d2d2d2',
                linewidth=3, ticks='outside', ticklen=9, tickwidth=1.5, tickcolor='#d2d2d2', ticklabelstandoff=4,
                tickfont=dict(family=BODY, size=19, color=GREY), fixedrange=True),
    # slider scale
    xaxis3=dict(domain=[88 / W, 691 / W], range=[YEARS[0], YEARS[-1]], anchor='y3', visible=False, fixedrange=True),
    yaxis3=dict(domain=[1 - 1143 / H, 1 - 1132 / H], range=[-1, 1], anchor='x3', visible=False, fixedrange=True),
    # whole page in pixels, for the chrome around the chart
    xaxis4=dict(domain=[0, 1], range=[0, W], anchor='y4', visible=False, fixedrange=True),
    yaxis4=dict(domain=[0, 1], range=[H, 0], anchor='x4', visible=False, fixedrange=True),
)

fig.write_html("out.html", config={'displayModeBar': False},
               post_script="document.body.style.margin='0';document.body.style.overflow='hidden';")
